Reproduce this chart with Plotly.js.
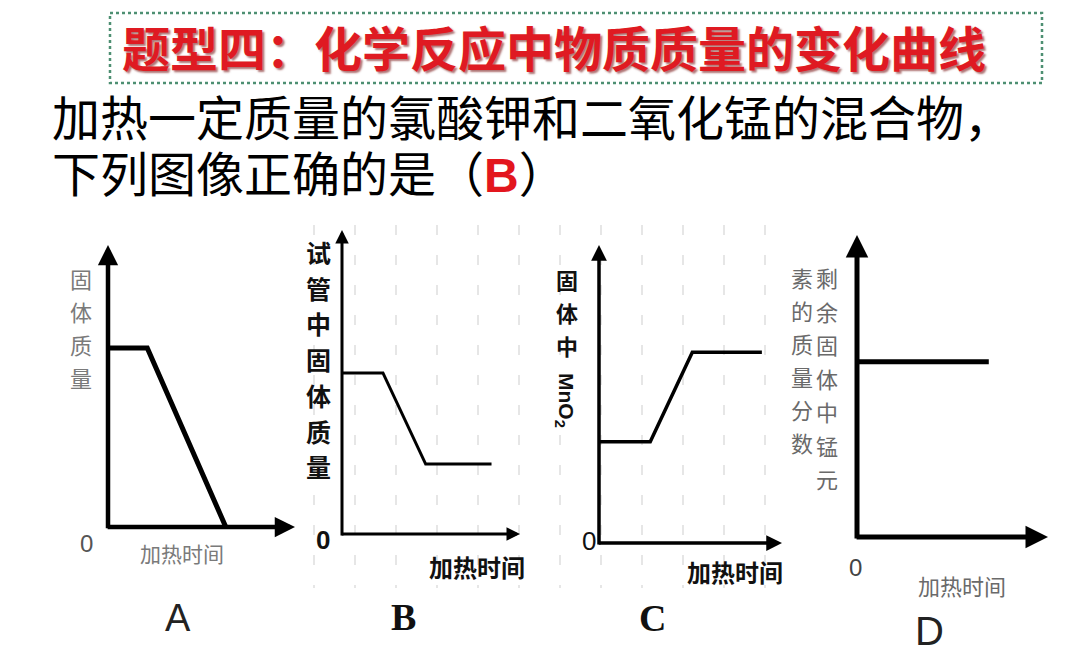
<!DOCTYPE html>
<html>
<head>
<meta charset="utf-8">
<script src="https://cdn.plot.ly/plotly-3.0.1.min.js"></script>
<style>html,body{margin:0;padding:0;background:#fff;}#chart{width:1080px;height:662px;}</style>
</head>
<body>
<div id="chart"></div>
<script>
// ---- data (axis units: 0 = origin, 10 = arrow tip) ----
const panelNames = ["A", "B", "C", "D"];
const timeA = [0, 2.1, 6.3];
const massA = [6.35, 6.35, 0];
const timeB = [0, 2.3, 4.7, 8.4];
const massB = [5.3, 5.3, 2.3, 2.3];
const timeC = [0, 2.8, 5.1, 8.9];
const mno2C = [3.4, 3.4, 6.4, 6.4];
const timeD = [0, 6.9];
const mnFracD = [5.8, 5.8];
const xLabel = "加热时间";
const zeroLabel = "0";
const titleText = "题型四：化学反应中物质质量的变化曲线";
const questionLine1 = "加热一定质量的氯酸钾和二氧化锰的混合物，";
const questionLine2Pre = "下列图像正确的是（";
const answer = "B";
const questionLine2Post = "）";
const yLabelA = "固体质量";
const yLabelB = "试管中固体质量";
const yLabelC = "固体中";
const yLabelC2 = "MnO<sub>2</sub>";
const yLabelD1 = "剩余固体中锰元";
const yLabelD2 = "素的质量分数";

// ---- layout helpers ----
const W = 1080, H = 662;
const px = x => x / W;
const py = y => 1 - y / H;
const frames = [
  {x0: 108, x1: 295, y0: 527, y1: 245, lw: 5, aw: 4.5},
  {x0: 342, x1: 520, y0: 534, y1: 230, lw: 3, aw: 3},
  {x0: 599, x1: 782, y0: 543, y1: 245, lw: 3.5, aw: 3.5},
  {x0: 857, x1: 1048, y0: 537, y1: 235, lw: 5, aw: 5}
];
const series = [[timeA, massA], [timeB, massB], [timeC, mno2C], [timeD, mnFracD]];

const CJK = '"Noto Sans CJK SC", "Noto Sans", sans-serif';
const data = [];
const layout = {
  width: W, height: H,
  margin: {l: 0, r: 0, t: 0, b: 0},
  paper_bgcolor: "#ffffff",
  plot_bgcolor: "rgba(0,0,0,0)",
  showlegend: false,
  annotations: [],
  shapes: []
};

frames.forEach((f, i) => {
  const n = i === 0 ? "" : String(i + 1);
  const xa = "x" + n, ya = "y" + n;
  layout["xaxis" + n] = {domain: [px(f.x0), px(f.x1)], range: [0, 10], anchor: ya,
    showgrid: false, zeroline: false, showticklabels: false, ticks: "", showline: false, fixedrange: true};
  layout["yaxis" + n] = {domain: [py(f.y0), py(f.y1)], range: [0, 10], anchor: xa,
    showgrid: false, zeroline: false, showticklabels: false, ticks: "", showline: false, fixedrange: true};
  data.push({type: "scatter", mode: "lines", x: series[i][0], y: series[i][1], xaxis: xa, yaxis: ya,
    line: {color: "#000", width: f.lw}, hoverinfo: "skip", cliponaxis: false});
  // axis arrows
  layout.annotations.push({xref: xa, yref: ya, axref: xa, ayref: ya, x: 10, y: 0, ax: -0.1, ay: 0,
    text: "", showarrow: true, arrowhead: 2, arrowsize: 0.9, arrowwidth: f.aw, arrowcolor: "#000", standoff: 0, startstandoff: 0});
  layout.annotations.push({xref: xa, yref: ya, axref: xa, ayref: ya, x: 0, y: 10, ax: 0, ay: -0.1,
    text: "", showarrow: true, arrowhead: 2, arrowsize: 0.9, arrowwidth: f.aw, arrowcolor: "#000", standoff: 0, startstandoff: 0});
});

// faint dashed background grid (from source image)
for (let k = 0; k < 12; k++) {
  const gx = 314 + 41 * k;
  layout.shapes.push({type: "line", xref: "paper", yref: "paper", x0: px(gx), x1: px(gx), y0: py(225), y1: py(588),
    line: {color: "#e6e6e6", width: 2, dash: "10px,20px"}, layer: "below"});
}

// title box
layout.shapes.push({type: "rect", xref: "paper", yref: "paper", x0: px(110), x1: px(1042), y0: py(13), y1: py(83),
  line: {color: "#4d8f72", width: 2.5, dash: "dot"}, fillcolor: "rgba(0,0,0,0)"});

function ann(x, y, text, font, extra) {
  layout.annotations.push(Object.assign({xref: "paper", yref: "paper", x: px(x), y: py(y), text: text,
    showarrow: false, font: font, xanchor: "center", yanchor: "middle"}, extra || {}));
}
// vertical (top-to-bottom) CJK label: one glyph per step
function vlabel(x, yFirst, step, text, font) {
  Array.from(text).forEach((ch, k) => ann(x, yFirst + k * step, ch, font));
}

ann(554, 46, titleText, {family: CJK, size: 48, color: "#df1a22", weight: 700, shadow: "2px 2px 2px rgba(110,0,0,0.55)"});
ann(50, 115, questionLine1, {family: CJK, size: 48, color: "#000"}, {xanchor: "left"});
ann(50, 171, questionLine2Pre + '<span style="color:#e3161e;font-weight:bold;font-family:Liberation Sans, Arial, sans-serif">' + answer + '</span>' + questionLine2Post,
  {family: CJK, size: 48, color: "#000"}, {xanchor: "left"});

// Panel A
vlabel(81, 278, 33, yLabelA, {family: CJK, size: 22, color: "#7a7a7a"});
ann(86, 543, zeroLabel, {family: "Liberation Sans, sans-serif", size: 24, color: "#555"});
ann(182, 553, xLabel, {family: CJK, size: 21, color: "#7a7a7a"});
ann(178, 618, panelNames[0], {family: "Liberation Sans, sans-serif", size: 38, color: "#222"});

// Panel B
vlabel(318, 252, 35.7, yLabelB, {family: CJK, size: 25, color: "#111", weight: 700});
ann(323, 540, zeroLabel, {family: "Liberation Sans, sans-serif", size: 26, color: "#111", weight: 700});
ann(477, 566, xLabel, {family: CJK, size: 24, color: "#111", weight: 700});
ann(403, 617, panelNames[1], {family: "Liberation Serif, serif", size: 38, color: "#111", weight: 700});

// Panel C
vlabel(567, 279, 33, yLabelC, {family: CJK, size: 22, color: "#111", weight: 700});
ann(565, 400, yLabelC2, {family: "Liberation Sans, sans-serif", size: 21, color: "#111", weight: 700}, {textangle: 90});
ann(589, 541, zeroLabel, {family: "Liberation Sans, sans-serif", size: 26, color: "#111"});
ann(735, 571, xLabel, {family: CJK, size: 24, color: "#111", weight: 700});
ann(652, 618, panelNames[2], {family: "Liberation Serif, serif", size: 38, color: "#111", weight: 700});

// Panel D
vlabel(827, 277, 33.5, yLabelD1, {family: CJK, size: 22, color: "#6a6a6a"});
vlabel(802, 277, 33, yLabelD2, {family: CJK, size: 22, color: "#6a6a6a"});
ann(855, 567, zeroLabel, {family: "Liberation Sans, sans-serif", size: 24, color: "#444"});
ann(962, 585, xLabel, {family: CJK, size: 22, color: "#6a6a6a"});
ann(929, 631, panelNames[3], {family: "Liberation Sans, sans-serif", size: 40, color: "#222"});

Plotly.newPlot("chart", data, layout, {displayModeBar: false, staticPlot: true});
</script>
</body>
</html>
